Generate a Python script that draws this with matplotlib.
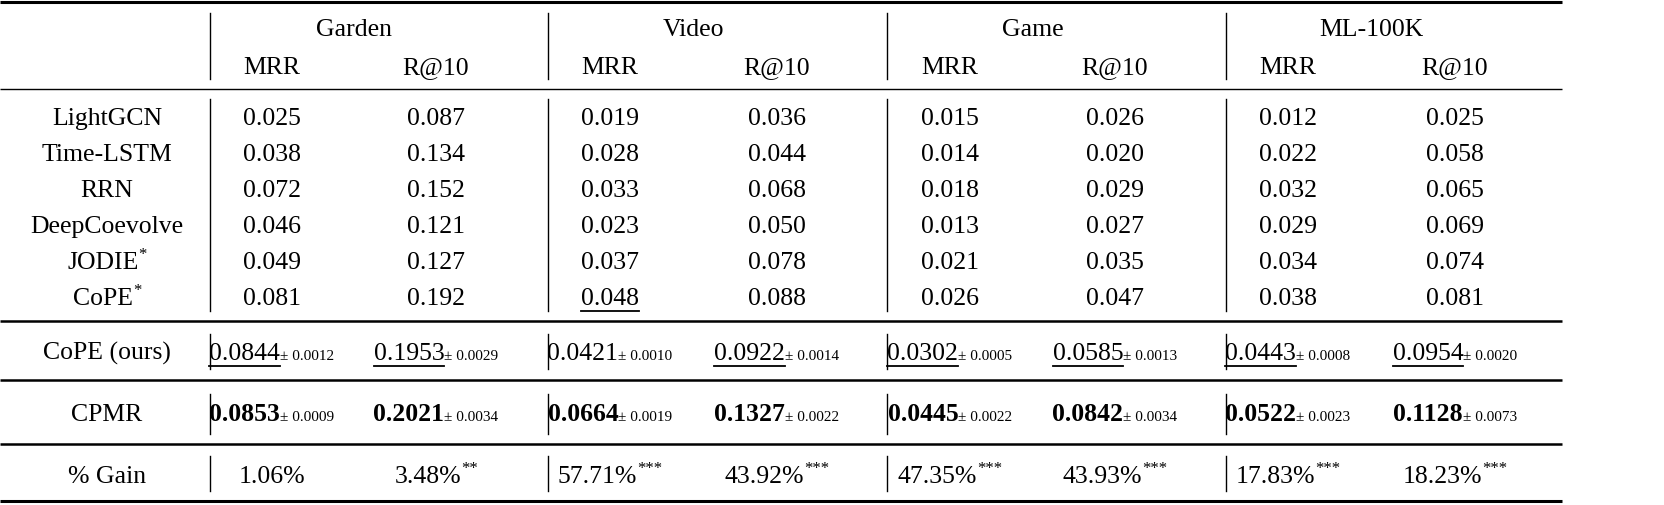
import matplotlib
matplotlib.use("Agg")
import matplotlib.pyplot as plt

plt.rcParams['font.family'] = ['Liberation Serif', 'DejaVu Serif']

datasets = ["Garden", "Video", "Game", "ML-100K"]
metrics = ["MRR", "R@10"]
baselines = ["LightGCN", "Time-LSTM", "RRN", "DeepCoevolve", "JODIE", "CoPE"]
starred = [False, False, False, False, True, True]
baseline_vals = [
    ["0.025", "0.087", "0.019", "0.036", "0.015", "0.026", "0.012", "0.025"],
    ["0.038", "0.134", "0.028", "0.044", "0.014", "0.020", "0.022", "0.058"],
    ["0.072", "0.152", "0.033", "0.068", "0.018", "0.029", "0.032", "0.065"],
    ["0.046", "0.121", "0.023", "0.050", "0.013", "0.027", "0.029", "0.069"],
    ["0.049", "0.127", "0.037", "0.078", "0.021", "0.035", "0.034", "0.074"],
    ["0.081", "0.192", "0.048", "0.088", "0.026", "0.047", "0.038", "0.081"],
]
cope_ours = ["0.0844", "0.1953", "0.0421", "0.0922", "0.0302", "0.0585", "0.0443", "0.0954"]
cope_std = ["0.0012", "0.0029", "0.0010", "0.0014", "0.0005", "0.0013", "0.0008", "0.0020"]
cpmr = ["0.0853", "0.2021", "0.0664", "0.1327", "0.0445", "0.0842", "0.0522", "0.1128"]
cpmr_std = ["0.0009", "0.0034", "0.0019", "0.0022", "0.0022", "0.0034", "0.0023", "0.0073"]
gain = ["1.06%", "3.48%", "57.71%", "43.92%", "47.35%", "43.93%", "17.83%", "18.23%"]
gain_sig = ["", "**", "***", "***", "***", "***", "***", "***"]

W, H = 1665, 506
fig = plt.figure(figsize=(W / 100, H / 100), dpi=100)
ax = fig.add_axes([0, 0, 1, 1])
ax.set_xlim(0, W)
ax.set_ylim(H, 0)
ax.axis('off')
r = fig.canvas.get_renderer()

FS = 18.5
SS = 11
col_x = [272, 436, 610, 777, 950, 1115, 1288, 1455]
vlines = [210, 548, 887, 1226]


def width(t):
    bb = t.get_window_extent(renderer=r)
    return bb.width


def segs(x, y, parts):
    # parts: list of (text, size, weight, dy, underline)
    arts = []
    for txt, sz, wt, dy, ul in parts:
        arts.append(ax.text(0, y + dy, txt, fontsize=sz, fontweight=wt, va='baseline', ha='left'))
    ws = [width(a) for a in arts]
    cur = x - sum(ws) / 2
    for a, w, p in zip(arts, ws, parts):
        a.set_x(cur)
        if p[4]:
            ax.plot([cur, cur + w], [y + 7, y + 7], color='black', lw=1.3)
        cur += w


def hline(y, lw):
    ax.plot([0, 1562], [y, y], color='black', lw=lw, solid_capstyle='butt')


def vseg(y0, y1):
    for x in vlines:
        ax.plot([x, x], [y0, y1], color='black', lw=1.0)


hline(3, 2.2)
hline(90, 1.0)
hline(322, 1.8)
hline(381, 1.8)
hline(445, 1.8)
hline(502, 2.2)
vseg(14, 80)
vseg(100, 312)
vseg(335, 370)
vseg(395, 435)
vseg(457, 492)

for i, d in enumerate(datasets):
    ax.text((col_x[2 * i] + col_x[2 * i + 1]) / 2, 36, d, fontsize=FS, ha='center', va='baseline')
    for j, m in enumerate(metrics):
        ax.text(col_x[2 * i + j], 74, m, fontsize=FS, ha='center', va='baseline')

for k, name in enumerate(baselines):
    y = 125 + 36 * k
    parts = [(name, FS, 'normal', 0, False)]
    if starred[k]:
        parts.append(("*", 12, 'normal', -10, False))
    segs(107, y, parts)
    for c in range(8):
        ul = (k == 5 and c == 2)
        segs(col_x[c], y, [(baseline_vals[k][c], FS, 'normal', 0, ul)])

segs(107, 360, [("CoPE (ours)", FS, 'normal', 0, False)])
segs(107, 421, [("CPMR", FS, 'normal', 0, False)])
segs(107, 483, [("% Gain", FS, 'normal', 0, False)])
for c in range(8):
    segs(col_x[c], 360, [(cope_ours[c], FS, 'normal', 0, c != 2), ("\u00b1 " + cope_std[c], SS, 'normal', 0, False)])
    segs(col_x[c], 421, [(cpmr[c], FS, 'bold', 0, False), ("\u00b1 " + cpmr_std[c], SS, 'normal', 0, False)])
    parts = [(gain[c], FS, 'normal', 0, False)]
    if gain_sig[c]:
        parts.append((gain_sig[c], 12, 'normal', -10, False))
    segs(col_x[c], 483, parts)

fig.savefig("out.png", dpi=100)
